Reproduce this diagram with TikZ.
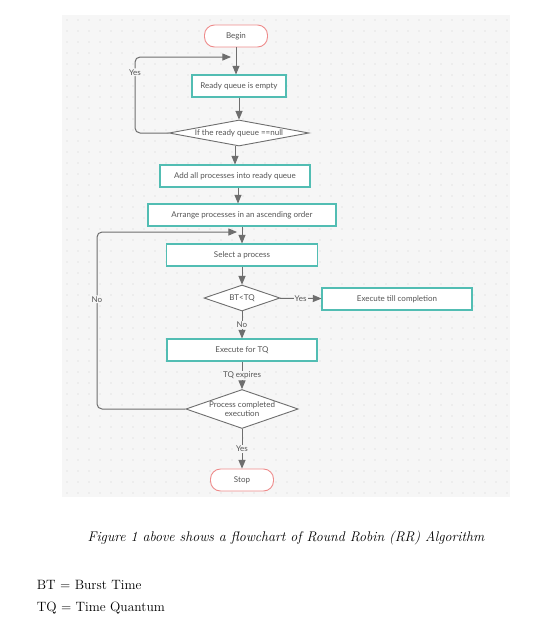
\documentclass[tikz,border=0pt]{standalone}
\usepackage{fontspec}
\newfontfamily\chartfont{Lato}
\usepackage{tikz}
\usetikzlibrary{arrows,shapes.geometric,backgrounds,positioning}
\definecolor{canvas}{HTML}{F6F6F6}
\definecolor{griddot}{HTML}{D2D2D2}
\definecolor{tealline}{HTML}{52BDB3}
\definecolor{redline}{HTML}{EE8B8B}
\definecolor{flowgray}{HTML}{6E6E6E}
\definecolor{labelgray}{HTML}{555555}
\tikzset{
	>=triangle 45,
	every picture/.style={line width=0.9pt},
	terminal/.style={
		draw=redline, fill=white, rounded corners=10pt,
		minimum width=63pt, minimum height=22pt,
		font=\chartfont\fontsize{8}{9.5}\selectfont, text=labelgray
	},
	process/.style={
		draw=tealline, fill=white, line width=1.1pt,
		minimum height=22pt,
		font=\chartfont\fontsize{8}{9.5}\selectfont, text=labelgray
	},
	decision/.style={
		diamond, draw=flowgray, fill=white, inner sep=0pt,
		align=center,
		font=\chartfont\fontsize{8}{9.5}\selectfont, text=labelgray
	},
	flow/.style={->, draw=flowgray, line width=1pt},
	tag/.style={fill=canvas, inner sep=1pt, text=labelgray,
		font=\chartfont\fontsize{8}{9.5}\selectfont}
}

\begin{document}
\begin{tikzpicture}[x=1pt,y=-1pt]
  \useasboundingbox (0,0) rectangle (540,622);
  \fill[white] (0,0) rectangle (540,622);

  % canvas with dotted grid
  \fill[canvas] (62,15) rectangle (510,497);
  \foreach \gx in {67,78,...,507}
    \foreach \gy in {20,31,...,494}
      \fill[griddot] (\gx,\gy) circle (0.55pt);

  % nodes
  \node[terminal] (begin) at (236,36) {Begin};
  \node[process, minimum width=94pt] (ready) at (239,86) {Ready queue is empty};
  \node[decision, aspect=6, minimum width=140pt, minimum height=26pt] (ifnull)
        at (239,133) {If the ready queue ==null};
  \node[process, minimum width=150pt] (add) at (235,176)
        {Add all processes into ready queue};
  \node[process, minimum width=188pt] (arrange) at (242,215)
        {Arrange processes in an ascending order};
  \node[process, minimum width=151pt] (select) at (242,255) {Select a process};
  \node[decision, aspect=3, minimum width=76pt, minimum height=26pt] (bttq)
        at (242,298) {BT<TQ};
  \node[process, minimum width=150pt] (till) at (397,299) {Execute till completion};
  \node[process, minimum width=150pt] (fortq) at (242,350) {Execute for TQ};
  \node[decision, aspect=3, minimum width=112pt, minimum height=39pt] (done)
        at (242,409) {Process completed\\execution};
  \node[terminal] (stop) at (242,480) {Stop};

  \coordinate (yesin) at (231,57);
  \coordinate (noin) at (237,232);

  % connectors
  \draw[flow] (begin) -- (begin |- ready.north);
  \draw[flow] (ready) -- (ready |- ifnull.north);
  \draw[flow, rounded corners=5pt] (ifnull.west) -- (135,133) |- (yesin)
        node[tag, pos=0.4] {Yes};
  \draw[flow] (ifnull.south -| add) -- (add);
  \draw[flow] (add.south -| 238,0) -- (238,0 |- arrange.north);
  \draw[flow] (arrange) -- (select);
  \draw[flow] (select) -- (bttq);
  \draw[flow] (bttq) -- node[tag] {Yes} (till);
  \draw[flow] (bttq) -- node[tag] {No} (fortq);
  \draw[flow] (fortq) -- node[tag] {TQ expires} (done);
  \draw[flow, rounded corners=5pt] (done.west) -- (97,409) |- (noin)
        node[tag, pos=0.31] {No};
  \draw[flow] (done) -- node[tag] {Yes} (stop);

  % caption and legend
  \node[font=\fontsize{14}{16}\selectfont\itshape] (caption) at (286,538)
        {Figure 1 above shows a flowchart of Round Robin (RR) Algorithm};
  \node[anchor=west, font=\fontsize{13.5}{16}\selectfont] (btkey) at (33,585)
        {BT = Burst Time};
  \node[anchor=west, font=\fontsize{13.5}{16}\selectfont] (tqkey) at (33,608)
        {TQ = Time Quantum};
\end{tikzpicture}
\end{document}
